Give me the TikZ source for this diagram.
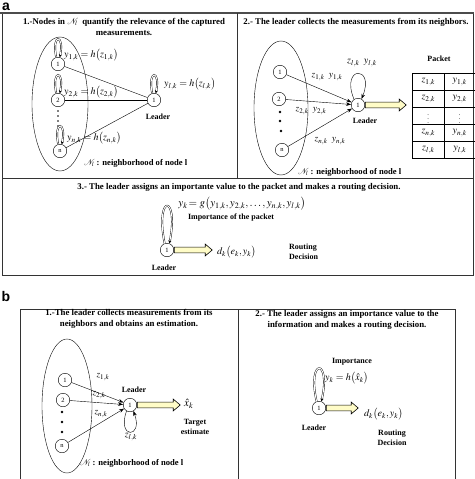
\documentclass[tikz,border=0pt]{standalone}
\usepackage{amsmath}
\usepackage{mathptmx}
\usepackage[no-math]{fontspec}
\setmainfont{Liberation Serif}
\setsansfont{Liberation Sans}
\usetikzlibrary{arrows.meta}
\usetikzlibrary{matrix}
\usetikzlibrary{shapes.arrows}

\begin{document}
\begin{tikzpicture}[x=1pt, y=-1pt, font=\fontsize{7.5}{9}\selectfont]
	\tikzstyle{vertexStyle}=[shape = circle, draw, minimum size = 13.5pt, inner sep = 0pt, font=\fontsize{6.5}{7}\selectfont]
	\tikzstyle{titleStyle}=[font=\bfseries\fontsize{8.8}{11}\selectfont, align = center, inner sep = 0pt]
	\tikzstyle{textStyle}=[font=\bfseries\fontsize{8}{10}\selectfont, align = center, inner sep = 0pt]
	\tikzstyle{nbhStyle}=[font=\bfseries\fontsize{8.6}{10}\selectfont, inner sep = 0pt, anchor = west]
	\tikzstyle{mathStyle}=[font=\fontsize{10}{11}\selectfont, inner sep = 0pt]
	\tikzstyle{smallMath}=[font=\fontsize{9.5}{10}\selectfont, inner sep = 0pt]
	\tikzstyle{edgeStyle}=[-{Stealth[length=5pt, width=3.5pt]}]
	\tikzstyle{hollowLoop}=[double, double distance = 1pt, -{Stealth[length=3pt, width=3pt]}]
	\tikzstyle{blockArrow}=[shape = single arrow, draw, line width = 0.6pt, fill = yellow!22, minimum width = 11pt,
		single arrow head extend = 3pt, single arrow tip angle = 80, inner xsep = 0pt, inner ysep = 2.6pt, anchor = west]
	\tikzstyle{frameStyle}=[line width = 0.8pt, black!80]
	\tikzstyle{dotStyle}=[fill, shape = circle, inner sep = 0pt, minimum size = 2.6pt]
	\useasboundingbox (0,0) rectangle (474,479);
	% frames
	\draw[frameStyle] (2,13) rectangle (473,275);
	\draw[line width = 1.6pt, black!70] (0,13) -- (474,13);
	\draw[frameStyle] (2,178) -- (473,178) (237,13) -- (237,178);
	\draw[frameStyle] (20,481) -- (20,309) -- (455,309) -- (455,481) (238,309) -- (238,481);
	\node[font=\sffamily\bfseries\fontsize{14}{14}\selectfont, inner sep = 0pt] (lblA) at (6,6.5) {a};
	\node[font=\sffamily\bfseries\fontsize{14}{14}\selectfont, inner sep = 0pt] (lblB) at (6,296) {b};

	% a.1
	\node[titleStyle] (titleA1) at (124,27) {1.-Nodes in $\mathcal{N}_l$ \ quantify the relevance of the captured\\measurements.};
	\draw (60,104) ellipse [x radius = 28pt, y radius = 67pt];
	\node[vertexStyle] (a1v1) at (58,64) {1};
	\node[vertexStyle] (a1v2) at (58,100) {2};
	\node[vertexStyle] (a1vn) at (60,151) {n};
	\node[vertexStyle] (a1ldr) at (154,100) {1};
	\node[dotStyle, minimum size = 1.6pt] (a1d1) at (58,111) {};
	\node[dotStyle, minimum size = 1.6pt] (a1d2) at (58,116) {};
	\node[dotStyle, minimum size = 1.6pt] (a1d3) at (58,121) {};
	\node[dotStyle, minimum size = 1.6pt] (a1d4) at (58,126) {};
	\draw (a1v1) -- (a1ldr);
	\draw (a1v2) -- (a1ldr);
	\draw (a1vn) -- (a1ldr);
	\draw[hollowLoop] (a1v1.105) .. controls +(-5,-24) and +(5,-24) .. (a1v1.75);
	\draw[hollowLoop] (a1v2.105) .. controls +(-5,-24) and +(5,-24) .. (a1v2.75);
	\draw[hollowLoop] (a1vn.105) .. controls +(-5,-24) and +(5,-24) .. (a1vn.75);
	\draw[hollowLoop] (a1ldr.105) .. controls +(-5,-24) and +(5,-24) .. (a1ldr.75);
	\node[mathStyle, anchor = west] (a1y1) at (64,55) {$y_{1,k}=h\big(z_{1,k}\big)$};
	\node[mathStyle, anchor = west] (a1y2) at (64,92) {$y_{2,k}=h\big(z_{2,k}\big)$};
	\node[mathStyle, anchor = west] (a1yn) at (67,138) {$y_{n,k}=h\big(z_{n,k}\big)$};
	\node[mathStyle, anchor = west] (a1yl) at (164,84) {$y_{l,k}=h\big(z_{l,k}\big)$};
	\node[textStyle] (a1lead) at (158,117) {Leader};
	\node[nbhStyle] (a1nbh) at (84,163) {$\mathcal{N}_l$ : neighborhood of node l};

	% a.2
	\node[titleStyle] (titleA2) at (356,22) {2.- The leader collects the measurements from its neighbors.};
	\draw (281,108) ellipse [x radius = 27pt, y radius = 67pt];
	\node[vertexStyle] (a2v1) at (280,72) {1};
	\node[vertexStyle] (a2v2) at (279,99) {2};
	\node[vertexStyle] (a2vn) at (282,150) {n};
	\node[vertexStyle] (a2ldr) at (358,105) {1};
	\node[dotStyle] (a2d1) at (280,112) {};
	\node[dotStyle] (a2d2) at (280,121) {};
	\node[dotStyle] (a2d3) at (281,131) {};
	\draw[edgeStyle] (a2v1) -- (a2ldr);
	\draw[edgeStyle] (a2v2) -- (a2ldr);
	\draw[edgeStyle] (a2vn) -- (a2ldr);
	\draw[edgeStyle] (a2ldr.125) .. controls +(-14,-34) and +(14,-34) .. (a2ldr.60);
	\node[smallMath] (a2e1) at (327,77) {$z_{1,k}\;\; y_{1,k}$};
	\node[smallMath] (a2e2) at (311,111) {$z_{2,k}\;\; y_{2,k}$};
	\node[smallMath] (a2en) at (330,141) {$z_{n,k}\;\; y_{n,k}$};
	\node[mathStyle] (a2el) at (362,63) {$z_{l,k}\;\; y_{l,k}$};
	\node[textStyle] (a2lead) at (365,121) {Leader};
	\node[blockArrow, minimum height = 41pt] (a2blk) at (a2ldr.east) {};
	\node[textStyle] (a2pkt) at (439,59) {Packet};
	\matrix[matrix of math nodes, anchor = north west, column sep = 0pt, row sep = 0pt,
		nodes = {minimum width = 31.5pt, minimum height = 17pt, inner sep = 0pt, font=\fontsize{10}{10}\selectfont}]
		(a2tab) at (409,70) {
		z_{1,k} & y_{1,k} \\
		z_{2,k} & y_{2,k} \\
		|[font=\fontsize{6.5}{6.5}\selectfont]| \vdots & |[font=\fontsize{6.5}{6.5}\selectfont]| \vdots \\
		z_{n,k} & y_{n,k} \\
		z_{l,k} & y_{l,k} \\
	};
	\draw[line width = 0.8pt] (a2tab-1-1.north west) rectangle (a2tab-5-2.south east);
	\draw[line width = 0.8pt] (a2tab-1-1.north east) -- (a2tab-5-1.south east);
	\foreach \r in {1,...,4}
		\draw[line width = 0.8pt] (a2tab-\r-1.south west) -- (a2tab-\r-2.south east);
	\node[nbhStyle] (a2nbh) at (298,172) {$\mathcal{N}_l$ : neighborhood of node l};

	% a.3
	\node[titleStyle] (titleA3) at (239,187) {3.- The leader assigns an importante value to the packet and makes a routing decision.};
	\node[mathStyle, font=\fontsize{11}{12}\selectfont] (a3g) at (242,204) {$y_k\!= g\big(y_{1,k}, y_{2,k},\ldots, y_{n,k}, y_{l,k}\big)$};
	\node[textStyle] (a3imp) at (231,218) {Importance of the packet};
	\node[vertexStyle] (a3ldr) at (167,250) {1};
	\draw[hollowLoop] (a3ldr.110) .. controls +(-10,-50) and +(10,-50) .. (a3ldr.70);
	\node[textStyle] (a3lead) at (164,268) {Leader};
	\node[blockArrow, minimum height = 38pt] (a3blk) at (a3ldr.east) {};
	\node[mathStyle, anchor = west] (a3dk) at (217,252) {$d_k\big(e_k,y_k\big)$};
	\node[textStyle, align = left, anchor = west] (a3rd) at (289,252) {Routing\\Decision};

	% b.1
	\node[titleStyle] (titleB1) at (129,319) {1.-The leader collects measurements from its\\neighbors and obtains an estimation.};
	\draw (67,406) ellipse [x radius = 25pt, y radius = 67pt];
	\node[vertexStyle] (b1v1) at (65,380) {1};
	\node[vertexStyle] (b1v2) at (63,400) {2};
	\node[vertexStyle] (b1vn) at (62,446) {n};
	\node[vertexStyle] (b1ldr) at (130,405) {1};
	\node[dotStyle] (b1d1) at (62,412) {};
	\node[dotStyle] (b1d2) at (62,422) {};
	\node[dotStyle] (b1d3) at (62,432) {};
	\draw[edgeStyle] (b1v1) -- (b1ldr);
	\draw[edgeStyle] (b1v2) -- (b1ldr);
	\draw[edgeStyle] (b1vn) -- (b1ldr);
	\draw[edgeStyle] (b1ldr.240) .. controls +(-10,28) and +(10,28) .. (b1ldr.300);
	\node[smallMath] (b1e1) at (103,377) {$z_{1,k}$};
	\node[smallMath] (b1e2) at (99,395) {$z_{2,k}$};
	\node[smallMath] (b1en) at (101,414) {$z_{n,k}$};
	\node[mathStyle] (b1el) at (131,437) {$z_{l,k}$};
	\node[textStyle] (b1lead) at (134,390) {Leader};
	\node[blockArrow, minimum height = 43pt] (b1blk) at (b1ldr.east) {};
	\node[mathStyle, anchor = west, font=\fontsize{11}{12}\selectfont] (b1xh) at (184,404) {$\hat{x}_k$};
	\node[textStyle] (b1te) at (195,427) {Target\\estimate};
	\node[nbhStyle] (b1nbh) at (80,463) {$\mathcal{N}_l$ : neighborhood of node l};

	% b.2
	\node[titleStyle] (titleB2) at (347,320) {2.- The leader assigns an importance value to the\\information and makes a routing decision.};
	\node[textStyle] (b2imp) at (352,362) {Importance};
	\node[mathStyle, anchor = west] (b2h) at (325,378) {$y_k=h\big(\hat{x}_k\big)$};
	\node[vertexStyle] (b2ldr) at (319,408) {1};
	\draw[hollowLoop] (b2ldr.110) .. controls +(-10,-44) and +(10,-44) .. (b2ldr.70);
	\node[textStyle] (b2lead) at (314,428) {Leader};
	\node[blockArrow, minimum height = 32pt] (b2blk) at (b2ldr.east) {};
	\node[mathStyle, anchor = west] (b2dk) at (364,414) {$d_k\big(e_k,y_k\big)$};
	\node[textStyle] (b2rd) at (392,438) {Routing\\Decision};
\end{tikzpicture}
\end{document}
